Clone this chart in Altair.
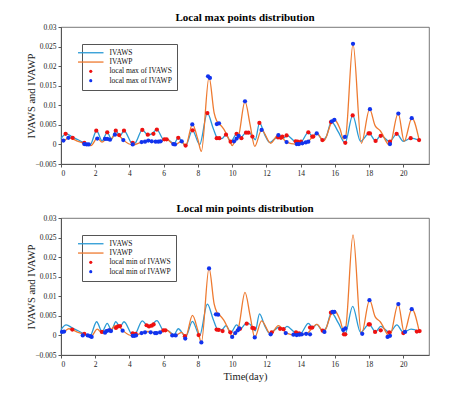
import altair as alt
import pandas as pd

# ---- line data ----
ws_t = [0.0, 0.3, 0.7, 1.0, 1.5, 1.7, 2.08, 2.4, 2.7, 2.95, 3.2, 3.45, 3.68, 4.2, 4.35, 4.75, 5.07, 5.3, 5.6,
        6.0, 6.2, 6.6, 6.85, 7.28, 7.68, 8.1, 8.55, 8.9, 9.15, 9.4, 9.64, 9.92, 10.26, 10.5, 10.8, 10.98, 11.2,
        11.35, 11.6, 11.9, 12.2, 12.45, 12.75, 13.0, 13.2, 13.7, 14.0, 14.45, 14.7, 14.95, 15.28, 15.5, 15.8,
        16.2, 16.6, 17.04, 17.5, 18.0, 18.38, 18.68, 19.2, 19.62, 20.0, 20.45, 20.9]
ws_v = [0.0015, 0.0027, 0.0018, 0.0012, 0.0001, -0.0001, 0.0035, 0.0009, 0.0031, 0.0013, 0.0035, 0.0022,
        0.0035, 0.0, 0.0004, 0.0037, 0.0024, 0.0027, 0.0038, 0.0013, 0.0013, 0.0002, 0.0017, -0.0003, 0.0036,
        0.0, 0.008, 0.004, 0.0016, 0.0015, 0.0025, 0.0007, 0.0027, 0.0017, 0.003, 0.003, 0.002, 0.0012, 0.0055,
        0.0025, 0.0005, 0.0013, 0.0021, 0.0016, 0.0023, 0.0007, 0.0006, 0.0031, 0.002, 0.0028, 0.0011, 0.002,
        0.0058, 0.0032, 0.0004, 0.0074, 0.0008, 0.0028, 0.0009, 0.0023, 0.0007, 0.0027, 0.0008, 0.0016, 0.0011]

wp_t = [0.0, 0.15, 0.45, 1.0, 1.4, 1.75, 2.12, 2.4, 2.7, 2.88, 3.15, 3.4, 3.65, 4.2, 4.7, 5.1, 5.3, 5.55, 5.85,
        6.1, 6.66, 7.05, 7.28, 7.68, 8.0, 8.2, 8.65, 8.95, 9.1, 9.2, 9.5, 9.9, 10.0, 10.15, 10.38, 10.75, 11.05,
        11.32, 11.72, 12.25, 12.7, 13.18, 13.7, 14.1, 14.4, 14.95, 15.35, 15.85, 15.97, 16.3, 16.5, 16.62,
        17.06, 17.55, 18.03, 18.35, 18.65, 19.2, 19.7, 20.05, 20.5, 20.92]
wp_v = [0.001, 0.001, 0.0017, 0.0008, 0.0002, -0.0003, 0.0016, 0.0006, 0.0015, 0.0012, 0.0025, 0.0022, 0.0011,
        -0.0001, 0.0006, 0.001, 0.0008, 0.0007, 0.0008, 0.0015, -0.0001, 0.0008, -0.0004, 0.0051, 0.0012,
        -0.0018, 0.0172, 0.008, 0.006, 0.0055, 0.004, 0.0005, -0.0003, 0.0007, 0.0022, 0.011, 0.005, -0.0005,
        0.0037, 0.0003, 0.0025, 0.0006, 0.0001, 0.0002, 0.0006, 0.0028, 0.0009, 0.006, 0.0063, 0.004, 0.0014,
        0.0018, 0.0257, 0.0003, 0.009, 0.0048, 0.0035, -0.0002, 0.008, 0.0008, 0.0067, 0.0012]

# ---- points: local max ----
max_ws_t = [0.27, 0.68, 1.36, 2.06, 2.7, 3.2, 3.4, 3.68, 4.19, 4.75, 5.07, 5.4, 5.6, 6.04, 6.17, 6.85, 7.28,
            7.69, 8.55, 9.1, 9.25, 9.64, 9.91, 10.26, 10.54, 10.81, 10.95, 11.18, 11.59, 12.68, 12.85, 12.93,
            13.18, 13.71, 13.83, 14.02, 14.45, 14.68, 14.74, 15.27, 15.77, 16.61, 17.04, 17.97, 18.05, 18.38,
            18.68, 19.22, 19.61, 20.43, 20.92]
max_ws_v = [0.0027, 0.0017, 0.0004, 0.0035, 0.0031, 0.0035, 0.0024, 0.0035, 0.0004, 0.0037, 0.0025, 0.0027,
            0.0038, 0.0013, 0.0013, 0.0017, -0.0003, 0.0036, 0.008, 0.0016, 0.0016, 0.0025, 0.0007, 0.0027,
            0.0016, 0.003, 0.003, 0.002, 0.0055, 0.0018, 0.0017, 0.002, 0.0023, 0.0008, 0.0007, 0.0007, 0.0031,
            0.002, 0.002, 0.0011, 0.0057, 0.0004, 0.0074, 0.0028, 0.0028, 0.0009, 0.0022, 0.0007, 0.0027,
            0.0016, 0.0011]
max_wp_t = [0.14, 0.43, 1.36, 1.5, 1.62, 2.12, 2.57, 2.7, 2.86, 3.15, 3.64, 4.19, 4.71, 4.91, 5.1, 5.3, 5.53,
            5.69, 5.82, 6.56, 6.66, 7.05, 7.67, 8.59, 8.7, 9.1, 9.23, 10.11, 10.26, 10.38, 10.75, 11.72, 12.7,
            13.18, 13.77, 13.9, 14.1, 14.3, 14.45, 14.94, 15.83, 15.97, 16.59, 17.06, 18.05, 19.22, 19.71, 20.49]
max_wp_v = [0.001, 0.0017, 0.0001, 0.0, 0.0, 0.0015, 0.0014, 0.0014, 0.0012, 0.0025, 0.0011, 0.0, 0.0006,
            0.0007, 0.001, 0.0008, 0.0007, 0.0007, 0.0008, 0.0001, 0.0, 0.0008, 0.0051, 0.0174, 0.017, 0.0052,
            0.0054, 0.0008, 0.0015, 0.0022, 0.011, 0.0037, 0.0024, 0.0006, 0.0001, 0.0001, 0.0003, 0.0005,
            0.0007, 0.0028, 0.0059, 0.0063, 0.0019, 0.0257, 0.009, 0.0001, 0.0079, 0.0067]

# ---- points: local min ----
min_ws_t = [0.66, 1.36, 2.39, 2.86, 3.21, 3.33, 3.45, 4.19, 4.36, 5.0, 5.14, 5.3, 5.41, 5.98, 6.1, 7.24, 8.04,
            9.09, 9.21, 9.44, 9.89, 10.46, 10.85, 11.18, 11.28, 12.31, 12.8, 13.0, 13.73, 13.91, 14.55, 14.68,
            15.29, 15.77, 16.53, 16.61, 17.98, 18.04, 18.35, 18.68, 19.18, 20.0, 20.79, 20.95]
min_ws_v = [0.0015, 0.0004, 0.0009, 0.0013, 0.0019, 0.0023, 0.0024, 0.0005, 0.0004, 0.0026, 0.0023, 0.0025,
            0.0028, 0.0013, 0.0013, -0.0002, 0.0001, 0.0015, 0.0014, 0.0011, 0.0008, 0.0017, 0.003, 0.0019,
            0.0018, 0.0008, 0.0017, 0.0016, 0.0008, 0.0005, 0.002, 0.002, 0.0012, 0.0058, 0.0003, 0.0003,
            0.0028, 0.0028, 0.0009, 0.0013, 0.0008, 0.0006, 0.001, 0.0011]
min_wp_t = [0.06, 0.18, 1.27, 1.56, 1.7, 1.79, 2.57, 2.66, 2.8, 2.92, 3.6, 4.19, 4.28, 4.38, 4.71, 4.91, 5.24,
            5.49, 5.59, 5.79, 6.5, 6.7, 7.26, 8.2, 8.65, 9.05, 9.18, 10.0, 10.18, 10.33, 10.41, 11.32, 12.25,
            13.13, 13.58, 13.77, 13.93, 14.07, 14.32, 14.55, 15.39, 15.86, 15.97, 16.5, 16.61, 17.6, 18.02,
            19.08, 19.22, 19.71, 20.1, 20.49]
min_wp_v = [0.0009, 0.001, 0.0, 0.0, -0.0002, -0.0004, 0.0007, 0.0011, 0.0013, 0.0011, 0.0012, -0.0001,
            -0.0001, 0.0, 0.0006, 0.0008, 0.0008, 0.0006, 0.0006, 0.0008, 0.0, 0.0, -0.0008, -0.0018, 0.0171,
            0.0054, 0.0053, -0.0004, 0.0006, 0.0013, 0.0018, -0.0005, 0.0003, 0.0006, 0.0002, 0.0001, 0.0002,
            0.0003, 0.0004, 0.0003, 0.0009, 0.006, 0.006, 0.0014, 0.0018, 0.0004, 0.009, -0.0004, -0.0001,
            0.008, 0.0009, 0.0067]

BLUE_LINE = "#2a9ad5"
ORANGE_LINE = "#ee7a30"
RED_PT = "#ee1111"
BLUE_PT = "#1133ee"
SERIF = "Liberation Serif"

lines = pd.concat([
    pd.DataFrame({"t": ws_t, "v": ws_v, "s": "IVAWS"}),
    pd.DataFrame({"t": wp_t, "v": wp_v, "s": "IVAWP"}),
])

IS_LINE = "(datum.value == 'IVAWS' || datum.value == 'IVAWP')"
COL_EXPR = (f"datum.value == 'IVAWS' ? '{BLUE_LINE}' : datum.value == 'IVAWP' ? '{ORANGE_LINE}' : "
            f"indexof(datum.value, 'IVAWS') >= 0 ? '{RED_PT}' : '{BLUE_PT}'")


def panel(kind, ws_pt_t, ws_pt_v, wp_pt_t, wp_pt_v, show_xtitle):
    lab_ws = f"local {kind} of IVAWS"
    lab_wp = f"local {kind} of IVAWP"
    pts = pd.concat([
        pd.DataFrame({"t": ws_pt_t, "v": ws_pt_v, "s": lab_ws}),
        pd.DataFrame({"t": wp_pt_t, "v": wp_pt_v, "s": lab_wp}),
    ])
    domain = ["IVAWS", "IVAWP", lab_ws, lab_wp]
    legend = alt.Legend(
        orient="none", legendX=21, legendY=17, title=None,
        labelFont=SERIF, labelFontSize=7.5, labelColor="#111",
        strokeColor="#555", fillColor="white", padding=5, rowPadding=0.3,
        symbolSize=alt.ExprRef(f"{IS_LINE} ? 650 : 10"), labelOffset=15,
        symbolType=alt.ExprRef(f"{IS_LINE} ? 'stroke' : 'circle'"),
        symbolStrokeColor=alt.ExprRef(COL_EXPR),
        symbolFillColor=alt.ExprRef(COL_EXPR),
        symbolStrokeWidth=alt.ExprRef(f"{IS_LINE} ? 1.3 : 0"),
        symbolOpacity=1,
    )
    color = alt.Color("s:N", scale=alt.Scale(domain=domain,
                                              range=[BLUE_LINE, ORANGE_LINE, RED_PT, BLUE_PT]),
                      legend=legend)
    x = alt.X("t:Q", scale=alt.Scale(domain=[0, 21.5], nice=False, zero=False),
              axis=alt.Axis(values=list(range(0, 21, 2)),
                            title="Time(day)" if show_xtitle else None,
                            titleY=16))
    y = alt.Y("v:Q", scale=alt.Scale(domain=[-0.005, 0.03], nice=False),
              axis=alt.Axis(values=[-0.005, 0, 0.005, 0.01, 0.015, 0.02, 0.025, 0.03], format="~g",
                            title="IVAWS and IVAWP", titleX=-25, titleY=68.5))
    ln = alt.Chart(lines).mark_line(interpolate="monotone", strokeWidth=1.3).encode(
        x=x, y=y, color=color, detail="s:N")
    pt = alt.Chart(pts).mark_circle(size=18, opacity=1).encode(x=x, y=y, color=color)
    return alt.layer(ln, pt).properties(
        width=368, height=137,
        title=alt.TitleParams(f"Local {kind} points distribution", font=SERIF, fontSize=11,
                              fontWeight="bold", anchor="middle", offset=0, color="#000"))


top = panel("max", max_ws_t, max_ws_v, max_wp_t, max_wp_v, False)
bot = panel("min", min_ws_t, min_ws_v, min_wp_t, min_wp_v, True)

chart = alt.vconcat(top, bot, spacing=25).resolve_scale(color="independent").properties(
    padding={"left": 17, "top": 3, "right": 5, "bottom": 5},
    background="white",
).configure_view(stroke="#555", strokeWidth=0.8).configure_axis(
    grid=False, labelFont=SERIF, labelFontSize=7.5, labelColor="#222",
    titleFont=SERIF, titleFontSize=10.5, titleFontWeight="normal", titleColor="#222",
    domainColor="#555", tickColor="#555", tickSize=3, labelPadding=2, titlePadding=3,
)

chart.save("out.html", embed_options={"renderer": "svg", "actions": False})
